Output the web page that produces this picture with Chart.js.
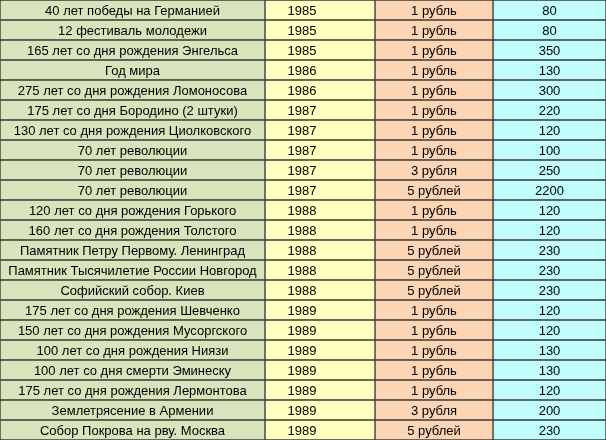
<!DOCTYPE html>
<html><head><meta charset="utf-8">
<script src="https://cdn.jsdelivr.net/npm/chart.js@4"></script>
<style>html,body{margin:0;padding:0;background:#fff}#w{width:606px;height:440px}</style>
</head><body><div id="w"><canvas id="c"></canvas></div>
<script>
const names=["40 лет победы на Германией","12 фестиваль молодежи","165 лет со дня рождения Энгельса","Год мира","275 лет со дня рождения Ломоносова","175 лет со дня Бородино (2 штуки)","130 лет со дня рождения Циолковского","70 лет революции","70 лет революции","70 лет революции","120 лет со дня рождения Горького","160 лет со дня рождения Толстого","Памятник Петру Первому. Ленинград","Памятник Тысячилетие России Новгород","Софийский собор. Киев","175 лет со дня рождения Шевченко","150 лет со дня рождения Мусоргского","100 лет со дня рождения Ниязи","100 лет со дня смерти Эминеску","175 лет со дня рождения Лермонтова","Землетрясение в Армении","Собор Покрова на рву. Москва"];
const years=[1985,1985,1985,1986,1986,1987,1987,1987,1987,1987,1988,1988,1988,1988,1988,1989,1989,1989,1989,1989,1989,1989];
const nominals=["1 рубль","1 рубль","1 рубль","1 рубль","1 рубль","1 рубль","1 рубль","1 рубль","3 рубля","5 рублей","1 рубль","1 рубль","5 рублей","5 рублей","5 рублей","1 рубль","1 рубль","1 рубль","1 рубль","1 рубль","3 рубля","5 рублей"];
const prices=[80,80,350,130,300,220,120,100,250,2200,120,120,230,230,230,120,120,130,130,120,200,230];
const cols=[[0,265],[265,375],[375,493],[493,606]];
const fills=["#d8e4bc","#ffffc0","#fcd5b4","#c0fcfc"];
const texts=[names,years,nominals,prices];
const datasets=cols.map((c,i)=>({data:names.map(()=>c),backgroundColor:fills[i],borderColor:"#3a3a3a",borderWidth:1,borderSkipped:false,barPercentage:1,categoryPercentage:1,grouped:false,txt:texts[i]}));
const textPlugin={id:"t",afterDatasetsDraw(ch){const ctx=ch.ctx;ctx.save();ctx.fillStyle="#000";ctx.font="13px 'Liberation Sans', Arial";ctx.textAlign="center";ctx.textBaseline="middle";
ch.data.datasets.forEach((d,i)=>{ch.getDatasetMeta(i).data.forEach((el,j)=>{const lo=Math.min(el.x,el.base);const cx=i===1?lo+37:(el.x+el.base)/2;ctx.fillText(String(d.txt[j]),cx,el.y+1);});});ctx.restore();}};
new Chart(document.getElementById("c"),{type:"bar",data:{labels:names.map((_,i)=>i),datasets},
options:{indexAxis:"y",responsive:true,maintainAspectRatio:false,animation:false,layout:{padding:{top:-9,bottom:0}},
plugins:{legend:{display:false},tooltip:{enabled:false}},
scales:{x:{type:"linear",min:0,max:606,display:false},y:{display:false,offset:true}}},plugins:[textPlugin]});
</script></body></html>
